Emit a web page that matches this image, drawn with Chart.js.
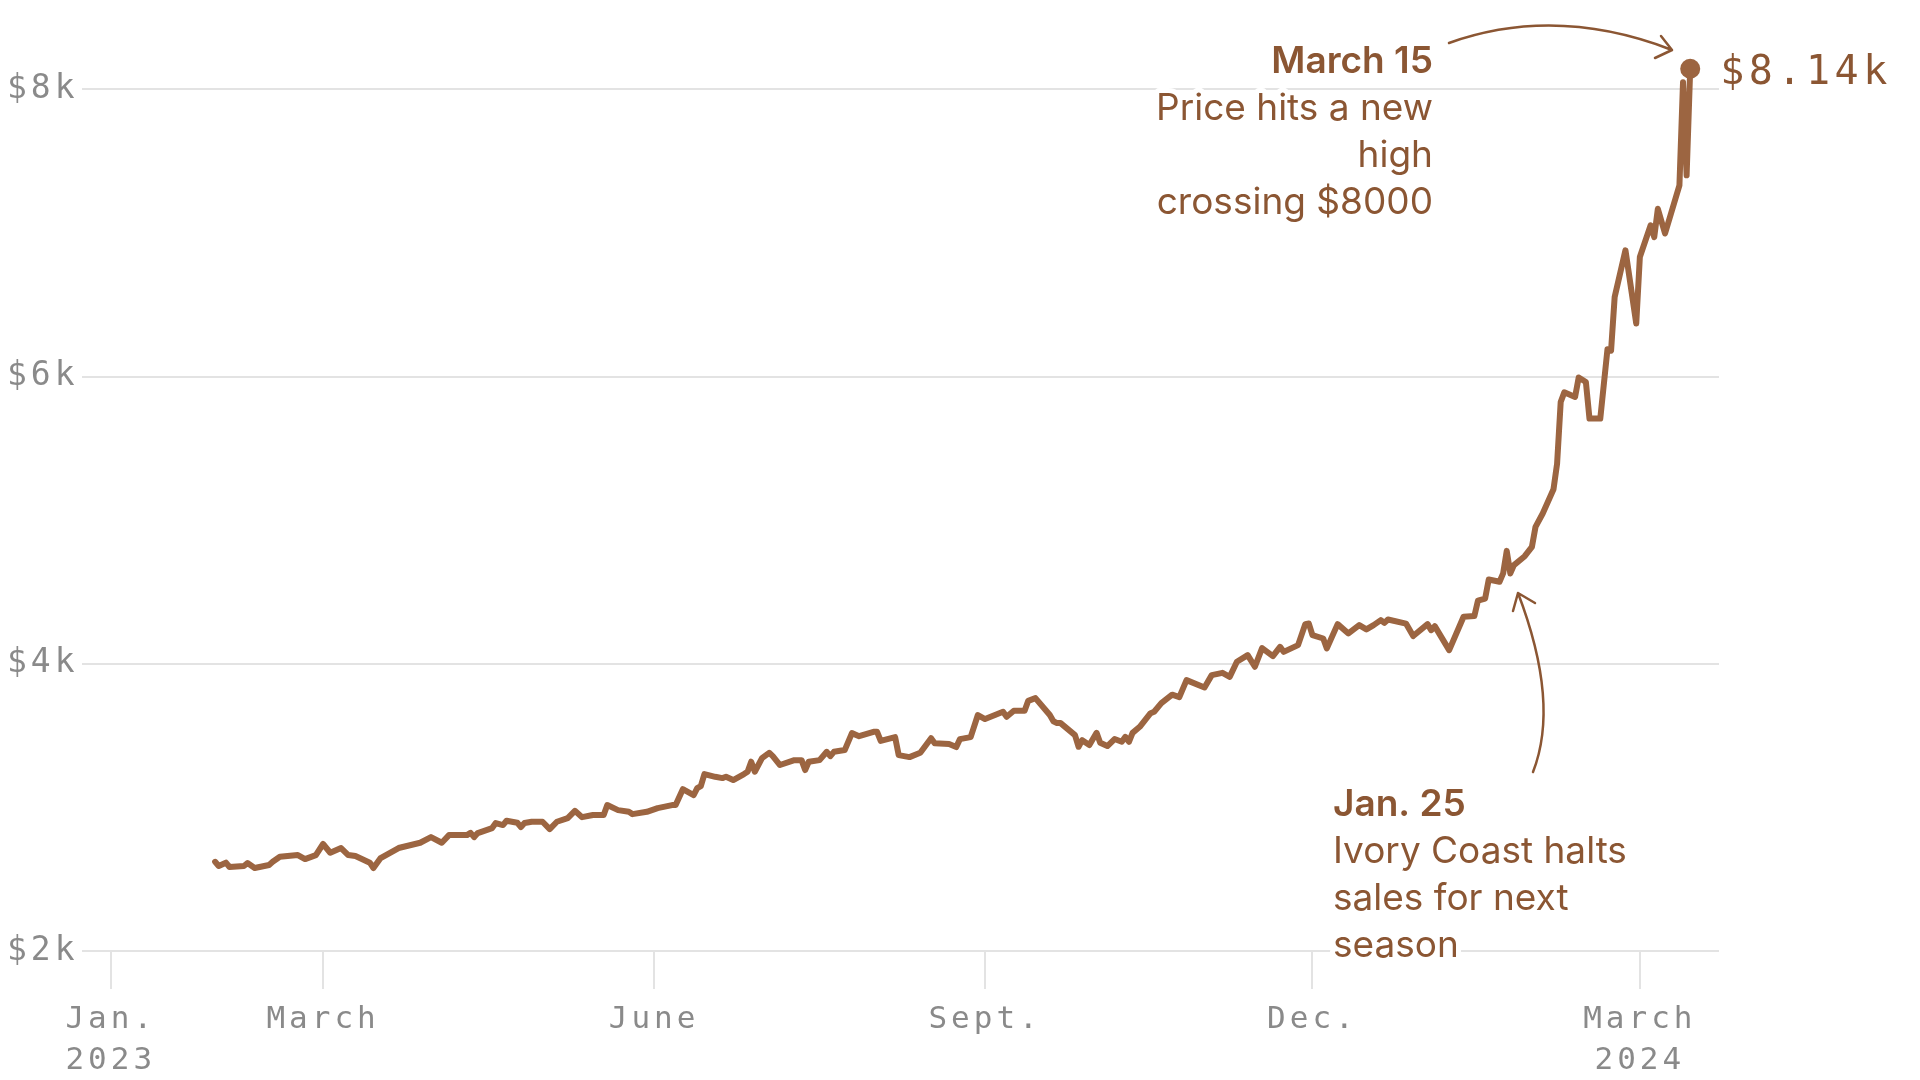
<!DOCTYPE html>
<html>
<head>
<meta charset="utf-8">
<script src="https://cdn.jsdelivr.net/npm/chart.js@4.4.1/dist/chart.umd.min.js"></script>
<style>
  html, body { margin: 0; padding: 0; background: #fff; }
  canvas { display: block; }
</style>
</head>
<body>
<canvas id="cocoaChart" width="1920" height="1080"></canvas>
<script>
const dates = [
  '2023-01-30', '2023-01-31', '2023-02-02', '2023-02-03', '2023-02-07', '2023-02-08', '2023-02-10', '2023-02-14',
  '2023-02-15', '2023-02-17', '2023-02-22', '2023-02-24', '2023-02-27', '2023-03-01', '2023-03-03', '2023-03-06',
  '2023-03-08', '2023-03-10', '2023-03-14', '2023-03-15', '2023-03-17', '2023-03-22', '2023-03-28', '2023-03-31',
  '2023-04-03', '2023-04-05', '2023-04-10', '2023-04-11', '2023-04-12', '2023-04-13', '2023-04-17', '2023-04-18',
  '2023-04-20', '2023-04-21', '2023-04-24', '2023-04-25', '2023-04-26', '2023-04-28', '2023-05-01', '2023-05-03',
  '2023-05-05', '2023-05-08', '2023-05-10', '2023-05-12', '2023-05-15', '2023-05-18', '2023-05-19', '2023-05-22',
  '2023-05-25', '2023-05-26', '2023-05-30', '2023-06-02', '2023-06-06', '2023-06-07', '2023-06-09', '2023-06-12',
  '2023-06-13', '2023-06-14', '2023-06-15', '2023-06-18', '2023-06-20', '2023-06-21', '2023-06-23', '2023-06-26',
  '2023-06-27', '2023-06-28', '2023-06-29', '2023-07-01', '2023-07-03', '2023-07-04', '2023-07-06', '2023-07-10',
  '2023-07-12', '2023-07-13', '2023-07-14', '2023-07-17', '2023-07-19', '2023-07-20', '2023-07-21', '2023-07-24',
  '2023-07-26', '2023-07-28', '2023-08-01', '2023-08-02', '2023-08-03', '2023-08-07', '2023-08-08', '2023-08-11',
  '2023-08-14', '2023-08-17', '2023-08-18', '2023-08-22', '2023-08-24', '2023-08-25', '2023-08-28', '2023-08-30',
  '2023-09-01', '2023-09-06', '2023-09-07', '2023-09-09', '2023-09-12', '2023-09-13', '2023-09-15', '2023-09-19',
  '2023-09-20', '2023-09-21', '2023-09-22', '2023-09-26', '2023-09-27', '2023-09-28', '2023-09-30', '2023-10-02',
  '2023-10-03', '2023-10-05', '2023-10-07', '2023-10-09', '2023-10-10', '2023-10-11', '2023-10-12', '2023-10-14',
  '2023-10-17', '2023-10-18', '2023-10-20', '2023-10-23', '2023-10-25', '2023-10-27', '2023-11-01', '2023-11-03',
  '2023-11-06', '2023-11-08', '2023-11-10', '2023-11-13', '2023-11-15', '2023-11-17', '2023-11-20', '2023-11-22',
  '2023-11-23', '2023-11-27', '2023-11-29', '2023-11-30', '2023-12-01', '2023-12-04', '2023-12-05', '2023-12-08',
  '2023-12-11', '2023-12-14', '2023-12-16', '2023-12-18', '2023-12-20', '2023-12-21', '2023-12-22', '2023-12-27',
  '2023-12-29', '2024-01-02', '2024-01-03', '2024-01-04', '2024-01-08', '2024-01-12', '2024-01-15', '2024-01-16',
  '2024-01-18', '2024-01-19', '2024-01-22', '2024-01-23', '2024-01-24', '2024-01-25', '2024-01-26', '2024-01-29',
  '2024-01-31', '2024-02-01', '2024-02-03', '2024-02-06', '2024-02-07', '2024-02-08', '2024-02-09', '2024-02-12',
  '2024-02-13', '2024-02-15', '2024-02-16', '2024-02-19', '2024-02-21', '2024-02-22', '2024-02-23', '2024-02-26',
  '2024-02-29', '2024-03-01', '2024-03-04', '2024-03-05', '2024-03-06', '2024-03-08', '2024-03-12', '2024-03-13',
  '2024-03-14', '2024-03-15'
];

const prices = [
  2621, 2592, 2615, 2585, 2592, 2612, 2578, 2599,
  2621, 2656, 2668, 2640, 2668, 2745, 2684, 2717,
  2668, 2661, 2615, 2578, 2647, 2717, 2754, 2793,
  2754, 2807, 2807, 2823, 2793, 2821, 2856, 2891,
  2877, 2907, 2893, 2863, 2891, 2900, 2900, 2849,
  2900, 2925, 2976, 2932, 2947, 2947, 3016, 2981,
  2969, 2953, 2969, 2995, 3016, 3016, 3127, 3086,
  3134, 3148, 3232, 3213, 3204, 3213, 3190, 3232,
  3248, 3318, 3248, 3343, 3380, 3357, 3295, 3329,
  3329, 3260, 3318, 3329, 3387, 3357, 3387, 3399,
  3517, 3496, 3526, 3526, 3463, 3489, 3364, 3350,
  3380, 3482, 3447, 3441, 3420, 3475, 3489, 3643,
  3615, 3666, 3631, 3673, 3673, 3742, 3761, 3643,
  3600, 3587, 3587, 3503, 3422, 3468, 3434, 3519,
  3450, 3427, 3476, 3457, 3491, 3457, 3519, 3561,
  3656, 3666, 3726, 3785, 3768, 3886, 3835, 3921,
  3937, 3909, 4014, 4060, 3979, 4109, 4053, 4118,
  4083, 4130, 4276, 4280, 4200, 4176, 4107, 4276,
  4211, 4269, 4239, 4269, 4304, 4285, 4308, 4280,
  4193, 4276, 4234, 4262, 4095, 4327, 4332, 4440,
  4454, 4587, 4571, 4629, 4786, 4629, 4687, 4749,
  4814, 4953, 5046, 5215, 5394, 5823, 5890, 5858,
  5993, 5962, 5707, 5707, 6190, 6180, 6554, 6879,
  6369, 6832, 7053, 6971, 7168, 6996, 7331, 8050,
  7401, 8143
];

const xRange = ['2022-12-24', '2024-03-23'];
const xTickDates = ['2023-01-01', '2023-03-01', '2023-06-01', '2023-09-01', '2023-12-01', '2024-03-01'];
const xTickLabels = [['Jan.', '2023'], 'March', 'June', 'Sept.', 'Dec.', ['March', '2024']];
const yTicks = [2000, 4000, 6000, 8000];
const yRange = [2000, 8500];

const notes = [
  { head: 'March 15', lines: ['Price hits a new', 'high', 'crossing $8000'] },
  { head: 'Jan. 25', lines: ['Ivory Coast halts', 'sales for next', 'season'] }
];

const LINE = '#9c6541';
const TEXT = '#8b5633';
const GRID = '#e3e3e3';
const AXIS_TEXT = '#8a8a8a';
const MONO = '"DejaVu Sans Mono"';

const base = Date.UTC(2023, 0, 1);
const dayOf = (s) => (Date.parse(s) - base) / 864e5;
const lastIdx = prices.length - 1;

const letterSpacing = {
  id: 'letterSpacing',
  beforeDraw(chart) {
    chart.ctx.letterSpacing = '4px';
  }
};

function arrow(ctx, s, c, t, b1, b2) {
  ctx.beginPath();
  ctx.moveTo(s[0], s[1]);
  ctx.quadraticCurveTo(c[0], c[1], t[0], t[1]);
  ctx.moveTo(b1[0], b1[1]);
  ctx.lineTo(t[0], t[1]);
  ctx.lineTo(b2[0], b2[1]);
  ctx.stroke();
}

function noteBlock(ctx, note, x, y, align) {
  ctx.textAlign = align;
  ctx.textBaseline = 'alphabetic';
  const rows = [note.head].concat(note.lines);
  rows.forEach((row, i) => {
    ctx.font = (i === 0 ? '600 ' : '400 ') + '37px Inter';
    ctx.strokeText(row, x, y + i * 47);
    ctx.fillText(row, x, y + i * 47);
  });
}

const annotations = {
  id: 'annotations',
  afterDatasetsDraw(chart) {
    const ctx = chart.ctx;
    const pt = chart.getDatasetMeta(0).data[lastIdx];
    ctx.save();
    ctx.letterSpacing = '0px';
    ctx.fillStyle = TEXT;
    ctx.strokeStyle = '#fff';
    ctx.lineWidth = 10;
    ctx.lineJoin = 'round';
    noteBlock(ctx, notes[0], 1433, 73, 'right');
    noteBlock(ctx, notes[1], 1333, 816, 'left');

    ctx.letterSpacing = '4.5px';
    ctx.font = '40px ' + MONO;
    ctx.textAlign = 'left';
    ctx.textBaseline = 'middle';
    ctx.fillText('$' + (prices[lastIdx] / 1000).toFixed(2) + 'k', pt.x + 30, pt.y + 5);

    ctx.strokeStyle = TEXT;
    ctx.lineWidth = 2.5;
    ctx.lineCap = 'round';
    arrow(ctx, [1449, 43], [1556, 5], [1672, 50], [1661, 36], [1655, 58]);
    arrow(ctx, [1533, 772], [1560, 703], [1518, 593], [1513, 611], [1535, 603]);
    ctx.restore();
  }
};

new Chart(document.getElementById('cocoaChart'), {
  type: 'line',
  data: {
    datasets: [
      {
        data: dates.map((d, i) => ({ x: dayOf(d), y: prices[i] })),
        borderColor: LINE,
        backgroundColor: LINE,
        borderWidth: 6,
        borderJoinStyle: 'round',
        borderCapStyle: 'round',
        tension: 0,
        fill: false,
        pointRadius: (c) => (c.dataIndex === lastIdx ? 10 : 0),
        pointBorderWidth: 0,
        pointBackgroundColor: LINE
      }
    ]
  },
  options: {
    responsive: false,
    animation: false,
    events: [],
    devicePixelRatio: 1,
    layout: {
      padding: { left: 7, right: 201, top: 17.5, bottom: 0 }
    },
    scales: {
      x: {
        type: 'linear',
        min: dayOf(xRange[0]),
        max: dayOf(xRange[1]),
        afterBuildTicks: (scale) => {
          scale.ticks = xTickDates.map((d) => ({ value: dayOf(d) }));
        },
        afterFit: (scale) => {
          scale.height = 129;
        },
        ticks: {
          autoSkip: false,
          maxRotation: 0,
          padding: 10,
          color: AXIS_TEXT,
          font: { family: MONO, size: 31, lineHeight: 1.33 },
          callback: (v) => {
            const i = xTickDates.findIndex((d) => dayOf(d) === v);
            return i >= 0 ? xTickLabels[i] : '';
          }
        },
        grid: {
          drawOnChartArea: false,
          drawTicks: true,
          tickLength: 38,
          color: GRID,
          lineWidth: 2
        },
        border: { display: false }
      },
      y: {
        min: yRange[0],
        max: yRange[1],
        afterBuildTicks: (scale) => {
          scale.ticks = yTicks.map((v) => ({ value: v }));
        },
        afterFit: (scale) => {
          scale.width = 75;
        },
        ticks: {
          crossAlign: 'far',
          color: AXIS_TEXT,
          font: { family: MONO, size: 33, lineHeight: 0.8 },
          callback: (v) => '$' + v / 1000 + 'k'
        },
        grid: {
          drawTicks: false,
          color: GRID,
          lineWidth: 2
        },
        border: { display: false }
      }
    },
    plugins: {
      legend: { display: false },
      tooltip: { enabled: false }
    }
  },
  plugins: [letterSpacing, annotations]
});
</script>
</body>
</html>
